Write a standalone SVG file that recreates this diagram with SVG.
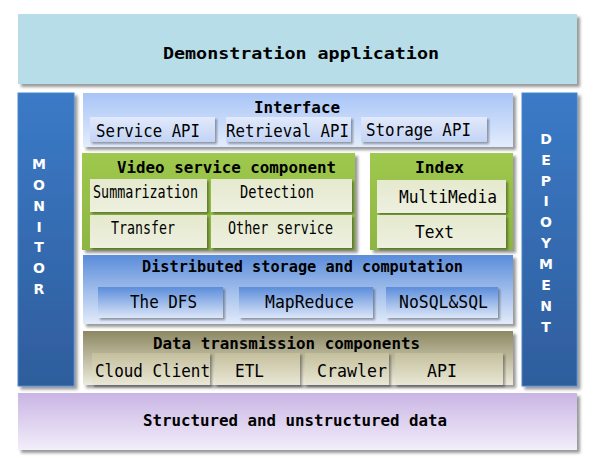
<svg xmlns="http://www.w3.org/2000/svg" width="593" height="465" viewBox="0 0 593 465">
<defs>
<filter id="sh" x="-10%" y="-10%" width="130%" height="140%">
<feDropShadow dx="3" dy="3" stdDeviation="1.5" flood-color="#000" flood-opacity="0.4"/>
</filter>
<filter id="shs" x="-10%" y="-10%" width="130%" height="150%">
<feDropShadow dx="2" dy="2" stdDeviation="1.2" flood-color="#000" flood-opacity="0.35"/>
</filter>
<linearGradient id="gSide" x1="0" y1="0" x2="0" y2="1"><stop offset="0" stop-color="#3b7ac7"/><stop offset="1" stop-color="#2e5d9c"/></linearGradient>
<linearGradient id="gIface" x1="0" y1="0" x2="0" y2="1"><stop offset="0" stop-color="#a8c5f7"/><stop offset="1" stop-color="#e3ecfc"/></linearGradient>
<linearGradient id="gIfaceItem" x1="0" y1="0" x2="0" y2="1"><stop offset="0" stop-color="#e2eafb"/><stop offset="1" stop-color="#c2d3f4"/></linearGradient>
<linearGradient id="gGreen" x1="0" y1="0" x2="0" y2="1"><stop offset="0" stop-color="#9fc84e"/><stop offset="1" stop-color="#8db542"/></linearGradient>
<linearGradient id="gGreenItem" x1="0" y1="0" x2="0" y2="1"><stop offset="0" stop-color="#e5e9cd"/><stop offset="1" stop-color="#eef0e0"/></linearGradient>
<linearGradient id="gDist" x1="0" y1="0" x2="0" y2="1"><stop offset="0" stop-color="#5a8cda"/><stop offset="1" stop-color="#e2ebfa"/></linearGradient>
<linearGradient id="gDistItem" x1="0" y1="0" x2="0" y2="1"><stop offset="0" stop-color="#5b8ddb"/><stop offset="1" stop-color="#dce6f8"/></linearGradient>
<linearGradient id="gData" x1="0" y1="0" x2="0" y2="1"><stop offset="0" stop-color="#8d8862"/><stop offset="1" stop-color="#eeecdd"/></linearGradient>
<linearGradient id="gDataItem" x1="0" y1="0" x2="0" y2="1"><stop offset="0" stop-color="#c4bf9c"/><stop offset="1" stop-color="#e9e7d6"/></linearGradient>
<linearGradient id="gBottom" x1="0" y1="0" x2="0" y2="1"><stop offset="0" stop-color="#c9b5e4"/><stop offset="1" stop-color="#f2eefa"/></linearGradient>
</defs>
<style>
.hd{font-family:"DejaVu Sans Mono","Liberation Mono",monospace;font-weight:bold;font-size:16px;fill:#000}
.it{font-family:"DejaVu Sans Mono","Liberation Mono",monospace;font-size:17px;fill:#000}
.vt{font-family:"DejaVu Sans","Liberation Sans",sans-serif;font-weight:bold;font-size:14px;fill:#fff;text-anchor:middle}
.panel{filter:url(#sh)}
.item{filter:url(#shs)}
</style>
<rect width="593" height="465" fill="#fff"/>

<g id="demo">
<rect class="panel" x="18" y="14" width="559" height="70" fill="#b7dde8"/>
<text class="hd" x="163" y="59" font-size="18" textLength="276" lengthAdjust="spacingAndGlyphs">Demonstration application</text>
</g>

<g id="monitor">
<rect class="panel" x="18" y="93" width="56" height="293" fill="url(#gSide)" stroke="#4a86cf" stroke-width="1"/>
<text class="vt" x="39" y="169">M</text>
<text class="vt" x="39" y="190">O</text>
<text class="vt" x="39" y="211">N</text>
<text class="vt" x="39" y="232">I</text>
<text class="vt" x="39" y="252">T</text>
<text class="vt" x="39" y="273">O</text>
<text class="vt" x="39" y="294">R</text>
</g>

<g id="deployment">
<rect class="panel" x="522" y="93" width="55" height="293" fill="url(#gSide)" stroke="#4a86cf" stroke-width="1"/>
<text class="vt" x="546" y="144">D</text>
<text class="vt" x="546" y="165">E</text>
<text class="vt" x="546" y="186">P</text>
<text class="vt" x="546" y="206">I</text>
<text class="vt" x="546" y="227">O</text>
<text class="vt" x="546" y="248">Y</text>
<text class="vt" x="546" y="269">M</text>
<text class="vt" x="546" y="290">E</text>
<text class="vt" x="546" y="311">N</text>
<text class="vt" x="546" y="332">T</text>
</g>

<g id="interface">
<rect class="panel" x="83" y="93" width="430" height="54" fill="url(#gIface)"/>
<text class="hd" x="254" y="113" textLength="86" lengthAdjust="spacingAndGlyphs">Interface</text>
</g>
<g id="service-api">
<rect class="item" x="90" y="117" width="125" height="25" fill="url(#gIfaceItem)"/>
<text class="it" x="96" y="137" textLength="104" lengthAdjust="spacingAndGlyphs">Service API</text>
</g>
<g id="retrieval-api">
<rect class="item" x="226" y="117" width="125" height="25" fill="url(#gIfaceItem)"/>
<text class="it" x="226" y="137" textLength="123" lengthAdjust="spacingAndGlyphs">Retrieval API</text>
</g>
<g id="storage-api">
<rect class="item" x="361" y="117" width="126" height="25" fill="url(#gIfaceItem)"/>
<text class="it" x="366" y="136" textLength="105" lengthAdjust="spacingAndGlyphs">Storage API</text>
</g>

<g id="video-service">
<rect class="panel" x="82" y="153" width="273" height="97" fill="url(#gGreen)"/>
<text class="hd" x="117" y="173" textLength="219" lengthAdjust="spacingAndGlyphs">Video service component</text>
</g>
<g id="summarization">
<rect class="item" x="90" y="179" width="117" height="33" fill="url(#gGreenItem)"/>
<text class="it" x="93" y="198" font-size="15.5" textLength="105" lengthAdjust="spacingAndGlyphs">Summarization</text>
</g>
<g id="detection">
<rect class="item" x="211" y="179" width="141" height="33" fill="url(#gGreenItem)"/>
<text class="it" x="240" y="198" font-size="15.5" textLength="74" lengthAdjust="spacingAndGlyphs">Detection</text>
</g>
<g id="transfer">
<rect class="item" x="90" y="215" width="117" height="33" fill="url(#gGreenItem)"/>
<text class="it" x="111" y="234" font-size="15.5" textLength="64" lengthAdjust="spacingAndGlyphs">Transfer</text>
</g>
<g id="other-service">
<rect class="item" x="211" y="215" width="141" height="33" fill="url(#gGreenItem)"/>
<text class="it" x="228" y="234" font-size="15.5" textLength="105" lengthAdjust="spacingAndGlyphs">Other service</text>
</g>

<g id="index">
<rect class="panel" x="370" y="153" width="143" height="97" fill="url(#gGreen)"/>
<text class="hd" x="415" y="173" textLength="49" lengthAdjust="spacingAndGlyphs">Index</text>
</g>
<g id="multimedia">
<rect class="item" x="377" y="180" width="129" height="33" fill="url(#gGreenItem)"/>
<text class="it" x="399" y="203" textLength="98" lengthAdjust="spacingAndGlyphs">MultiMedia</text>
</g>
<g id="text">
<rect class="item" x="377" y="215" width="129" height="33" fill="url(#gGreenItem)"/>
<text class="it" x="415" y="238" textLength="39" lengthAdjust="spacingAndGlyphs">Text</text>
</g>

<g id="distributed">
<rect class="panel" x="83" y="255" width="430" height="69" fill="url(#gDist)"/>
<text class="hd" x="142" y="272" textLength="321" lengthAdjust="spacingAndGlyphs">Distributed storage and computation</text>
</g>
<g id="dfs">
<rect class="item" x="98" y="287" width="125" height="31" fill="url(#gDistItem)"/>
<text class="it" x="130" y="308" textLength="67" lengthAdjust="spacingAndGlyphs">The DFS</text>
</g>
<g id="mapreduce">
<rect class="item" x="239" y="287" width="134" height="31" fill="url(#gDistItem)"/>
<text class="it" x="265" y="308" textLength="89" lengthAdjust="spacingAndGlyphs">MapReduce</text>
</g>
<g id="nosql">
<rect class="item" x="386" y="287" width="112" height="31" fill="url(#gDistItem)"/>
<text class="it" x="399" y="308" textLength="89" lengthAdjust="spacingAndGlyphs">NoSQL&amp;SQL</text>
</g>

<g id="data-transmission">
<rect class="panel" x="83" y="331" width="430" height="54" fill="url(#gData)"/>
<text class="hd" x="153" y="349" textLength="267" lengthAdjust="spacingAndGlyphs">Data transmission components</text>
</g>
<g id="cloud-client">
<rect class="item" x="92" y="353" width="118" height="32" fill="url(#gDataItem)"/>
<text class="it" x="95" y="377" textLength="115" lengthAdjust="spacingAndGlyphs">Cloud Client</text>
</g>
<g id="etl">
<rect class="item" x="215" y="353" width="85" height="32" fill="url(#gDataItem)"/>
<text class="it" x="235" y="377" textLength="29" lengthAdjust="spacingAndGlyphs">ETL</text>
</g>
<g id="crawler">
<rect class="item" x="305" y="353" width="84" height="32" fill="url(#gDataItem)"/>
<text class="it" x="317" y="377" textLength="70" lengthAdjust="spacingAndGlyphs">Crawler</text>
</g>
<g id="api">
<rect class="item" x="395" y="353" width="108" height="32" fill="url(#gDataItem)"/>
<text class="it" x="427" y="377" textLength="30" lengthAdjust="spacingAndGlyphs">API</text>
</g>

<g id="data">
<rect class="panel" x="18" y="393" width="559" height="57" fill="url(#gBottom)"/>
<text class="hd" x="143" y="426" textLength="304" lengthAdjust="spacingAndGlyphs">Structured and unstructured data</text>
</g>
</svg>
